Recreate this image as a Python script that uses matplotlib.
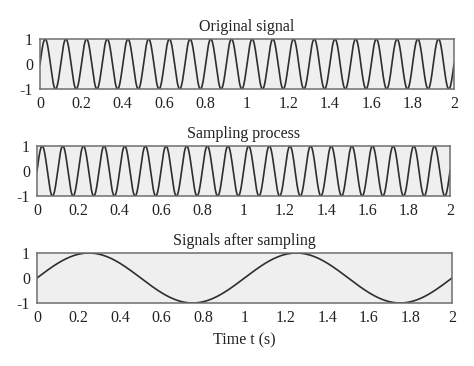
"""Original signal, sampling process and aliased signal after sampling."""
import numpy as np
import matplotlib
matplotlib.use('Agg')
import matplotlib.pyplot as plt

plt.rcParams['font.family'] = ['Liberation Serif', 'DejaVu Serif']
plt.rcParams['axes.unicode_minus'] = False

# signal parameters
t_end = 2.0
f_signal = 10.0      # 20 cycles over 2 s
f_after = 1.0        # 2 cycles over 2 s after sampling
amplitude = 1.0

titles = ["Original signal", "Sampling process", "Signals after sampling"]
xticks = [0, 0.2, 0.4, 0.6, 0.8, 1, 1.2, 1.4, 1.6, 1.8, 2]
xtick_labels = ["0", "0.2", "0.4", "0.6", "0.8", "1", "1.2", "1.4", "1.6", "1.8", "2"]
yticks = [-1, 0, 1]
ytick_labels = ["-1", "0", "1"]

t = np.linspace(0, t_end, 4000)
signals = [
    amplitude * np.sin(2 * np.pi * f_signal * t),
    amplitude * np.sin(2 * np.pi * f_signal * t),
    amplitude * np.sin(2 * np.pi * f_after * t),
]

W, H = 474, 366
fig = plt.figure(figsize=(W / 100, H / 100), dpi=100)

# axes boxes in pixels: left, top, right, bottom
boxes = [(40, 39, 454, 89), (37, 146, 450, 196), (37, 253, 452, 303)]

for i, (sig, title, box) in enumerate(zip(signals, titles, boxes)):
    l, tp, r, b = box
    ax = fig.add_axes([l / W, 1 - b / H, (r - l) / W, (b - tp) / H])
    ax.set_facecolor("#efefef")
    ax.plot(t, sig, color="#2e2e2e", lw=1.2)
    ax.set_xlim(0, t_end)
    ax.set_ylim(-1, 1)
    ax.set_xticks(xticks)
    ax.set_xticklabels(xtick_labels)
    ax.set_yticks(yticks)
    ax.set_yticklabels(ytick_labels)
    ax.tick_params(length=0, labelsize=11.5, colors="#222222", pad=5)
    for s in ax.spines.values():
        s.set_color("#6e6e6e")
        s.set_linewidth(1.1)
    ax.set_title(title, fontsize=11.5, color="#222222", pad=6)
    if i == 2:
        ax.set_xlabel("Time t (s)", fontsize=11.5, color="#222222", labelpad=5)

plt.savefig("out.png", dpi=100)
